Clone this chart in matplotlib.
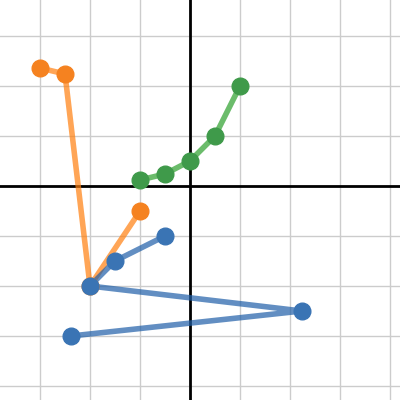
import matplotlib
matplotlib.use("Agg")
import matplotlib.pyplot as plt

blue_x = [-2.38, 2.24, -2.0, -1.5, -0.5]
blue_y = [-3.0, -2.5, -2.0, -1.5, -1.0]
orange_x = [-3.0, -2.5, -2.0, -1.0]
orange_y = [2.36, 2.24, -2.0, -0.5]
green_x = [-1.0, -0.5, 0.0, 0.5, 1.0]
green_y = [0.12, 0.24, 0.5, 1.0, 2.0]

fig = plt.figure(figsize=(4, 4), dpi=100)
ax = fig.add_axes([0, 0, 1, 1])
ax.set_xlim(-3.8, 4.2)
ax.set_ylim(-4.28, 3.72)
for v in range(-4, 5):
    ax.axvline(v, color='#cccccc', lw=1, zorder=0)
    ax.axhline(v, color='#cccccc', lw=1, zorder=0)
ax.axvline(0, color='black', lw=2, zorder=1)
ax.axhline(0, color='black', lw=2, zorder=1)

for xs, ys, c in [(orange_x, orange_y, '#ff7f0e'), (blue_x, blue_y, '#1f5fa8'), (green_x, green_y, '#2ca02c')]:
    ax.plot(xs, ys, color=c, lw=4, alpha=0.7, zorder=2)
for xs, ys, c in [(orange_x, orange_y, '#f58220'), (blue_x, blue_y, '#3a74b4'), (green_x, green_y, '#3f9a4a')]:
    ax.plot(xs, ys, 'o', color=c, ms=12, zorder=3, lw=0)
ax.axis('off')
fig.savefig('out.png', dpi=100)
